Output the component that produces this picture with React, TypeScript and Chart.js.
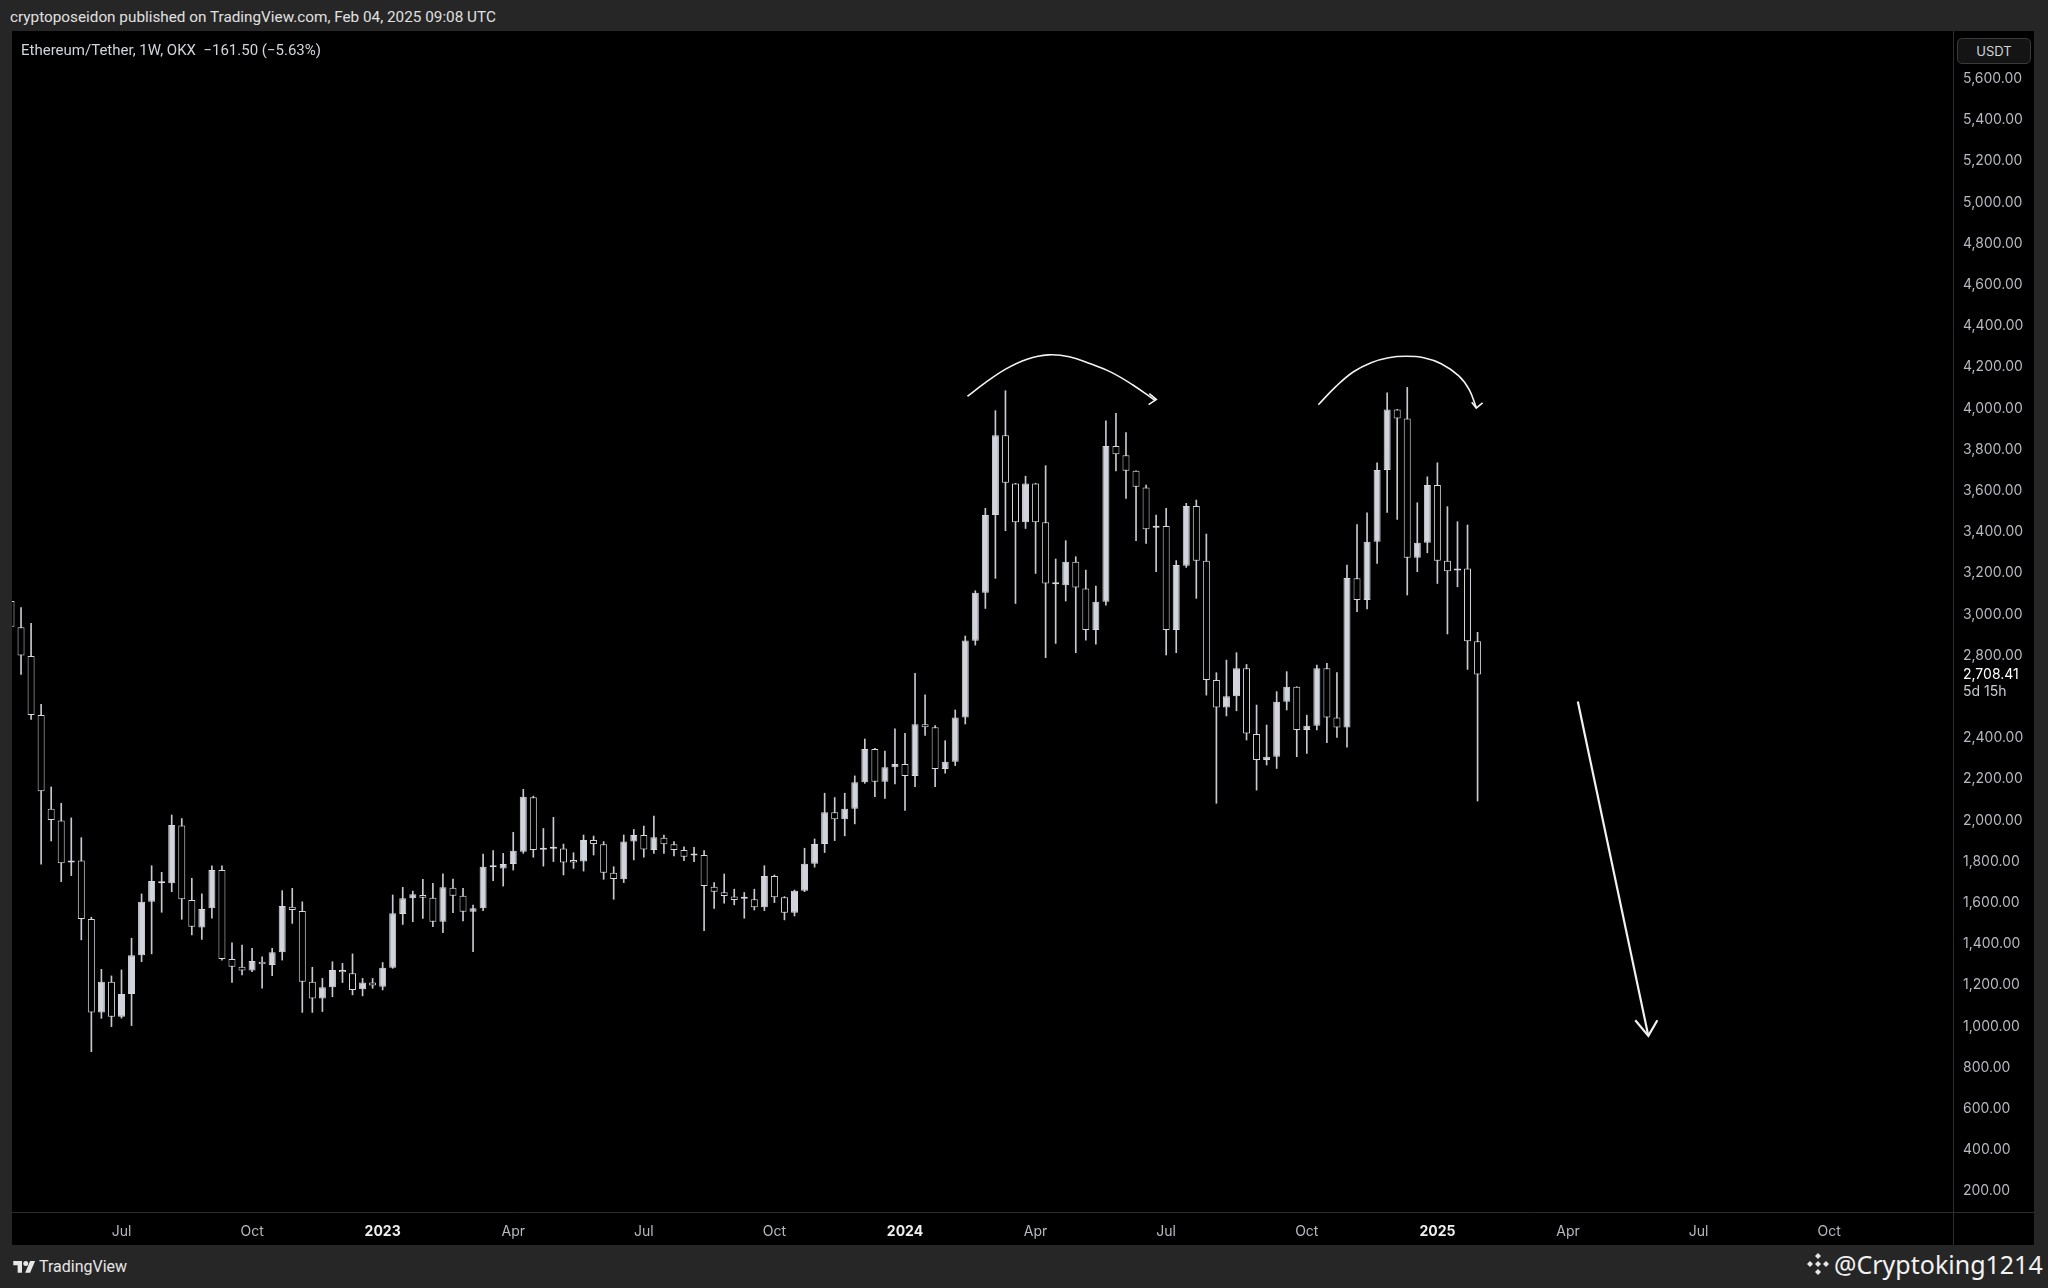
import { useEffect, useRef } from 'react';
import { Chart, registerables } from 'chart.js';

Chart.register(...registerables);

// Weekly candles, ETH/USDT (OKX), week of 18 Apr 2022 (index 0) to week of 3 Feb 2025 (index 146)
const opens = [
  3065, 2937, 2798, 2512, 2057, 1999, 1795, 1805, 1521, 1068,
  1217, 1047, 1157, 1345, 1605, 1703, 1695, 1975, 1614, 1480,
  1573, 1759, 1327, 1290, 1271, 1314, 1298, 1360, 1581, 1560,
  1217, 1136, 1190, 1274, 1258, 1180, 1213, 1193, 1285, 1545,
  1622, 1638, 1625, 1508, 1673, 1634, 1557, 1573, 1772, 1767,
  1788, 1848, 2112, 1860, 1862, 1864, 1808, 1800, 1905, 1884,
  1746, 1714, 1897, 1929, 1856, 1916, 1884, 1856, 1830, 1832,
  1678, 1651, 1630, 1622, 1617, 1578, 1730, 1627, 1552, 1659,
  1789, 1886, 2040, 2005, 2056, 2185, 2347, 2188, 2258, 2274,
  2216, 2467, 2452, 2250, 2285, 2500, 2872, 3105, 3482, 3870,
  3636, 3447, 3636, 3447, 3150, 3142, 3256, 3126, 2924, 3061,
  3817, 3773, 3697, 3616, 3425, 3429, 2924, 3236, 3526, 3261,
  2681, 2548, 2603, 2738, 2419, 2293, 2309, 2576, 2649, 2439,
  2460, 2738, 2500, 2451, 3175, 3070, 3353, 3701, 3995, 3951,
  3275, 3348, 3628, 3261, 3213, 3223, 2869.91,
];
const highs = [
  3080, 3033, 2957, 2563, 2162, 2083, 2012, 1916, 1530, 1277,
  1245, 1274, 1428, 1643, 1780, 1748, 2026, 2009, 1719, 1643,
  1780, 1780, 1406, 1395, 1379, 1338, 1379, 1659, 1670, 1605,
  1287, 1233, 1314, 1306, 1352, 1233, 1233, 1310, 1638, 1675,
  1657, 1714, 1694, 1740, 1715, 1670, 1589, 1837, 1853, 1840,
  1942, 2151, 2118, 1961, 2015, 1885, 1843, 1929, 1924, 1897,
  1775, 1929, 1956, 1973, 2021, 1929, 1897, 1872, 1869, 1853,
  1698, 1740, 1666, 1650, 1666, 1780, 1735, 1630, 1662, 1865,
  1910, 2132, 2111, 2132, 2216, 2395, 2350, 2337, 2444, 2423,
  2714, 2609, 2460, 2387, 2536, 2895, 3115, 3515, 3989, 4086,
  3636, 3671, 3636, 3722, 3269, 3358, 3280, 3215, 3138, 3940,
  3976, 3882, 3697, 3628, 3482, 3515, 3261, 3539, 3555, 3390,
  2717, 2778, 2814, 2757, 2560, 2463, 2625, 2722, 2649, 2511,
  2754, 2762, 2718, 3239, 3436, 3493, 3736, 4076, 3995, 4102,
  3542, 3668, 3736, 3523, 3450, 3434, 2913,
];
const lows = [
  2930, 2709, 2490, 1788, 1900, 1703, 1732, 1420, 877, 1039,
  999, 1040, 1004, 1314, 1352, 1554, 1654, 1520, 1444, 1422,
  1525, 1322, 1214, 1250, 1266, 1185, 1246, 1322, 1500, 1068,
  1068, 1072, 1144, 1213, 1153, 1148, 1185, 1177, 1282, 1495,
  1508, 1524, 1484, 1455, 1552, 1512, 1363, 1562, 1707, 1681,
  1759, 1840, 1821, 1778, 1800, 1735, 1767, 1754, 1832, 1714,
  1617, 1698, 1808, 1821, 1840, 1840, 1827, 1804, 1800, 1465,
  1573, 1598, 1590, 1525, 1565, 1562, 1601, 1517, 1536, 1654,
  1773, 1844, 1902, 1925, 1983, 2180, 2115, 2107, 2177, 2048,
  2164, 2412, 2164, 2229, 2266, 2468, 2851, 3029, 3175, 3406,
  3053, 3417, 3199, 2790, 2859, 3065, 2814, 2875, 2856, 3045,
  3697, 3563, 3358, 3345, 3207, 2803, 2814, 3228, 3078, 2608,
  2083, 2507, 2532, 2390, 2147, 2269, 2252, 2536, 2309, 2325,
  2439, 2377, 2403, 2356, 3013, 3026, 3248, 3495, 3461, 3094,
  3207, 3299, 3150, 2905, 3134, 2733, 2094,
];
const closes = [
  2940, 2800, 2512, 2141, 2002, 1792, 1803, 1521, 1068, 1217,
  1047, 1157, 1345, 1605, 1706, 1695, 1978, 1617, 1484, 1570,
  1759, 1327, 1290, 1271, 1317, 1302, 1360, 1585, 1565, 1217,
  1136, 1190, 1274, 1263, 1177, 1213, 1198, 1285, 1549, 1622,
  1641, 1625, 1508, 1675, 1634, 1557, 1573, 1775, 1775, 1788,
  1853, 2115, 1856, 1857, 1864, 1795, 1795, 1905, 1885, 1746,
  1715, 1897, 1929, 1859, 1918, 1884, 1856, 1824, 1832, 1681,
  1654, 1633, 1614, 1620, 1578, 1730, 1627, 1552, 1659, 1789,
  1886, 2040, 2005, 2056, 2185, 2347, 2188, 2258, 2274, 2216,
  2467, 2452, 2250, 2285, 2500, 2873, 3105, 3482, 3870, 3639,
  3447, 3636, 3447, 3150, 3146, 3256, 3130, 2924, 3061, 3817,
  3777, 3697, 3620, 3413, 3420, 2924, 3240, 3526, 3261, 2681,
  2548, 2603, 2738, 2422, 2293, 2309, 2576, 2649, 2439, 2460,
  2738, 2500, 2451, 3177, 3070, 3353, 3701, 3995, 3951, 3275,
  3348, 3628, 3261, 3209, 3222, 2869.91, 2708.41,
];

// Time axis: bar index of the first weekly bar of each quarter
const xTickIdx = [11, 24, 37, 50, 63, 76, 89, 102, 115, 129, 142, 155, 168, 181];
const xTickLabels = ['Jul', 'Oct', '2023', 'Apr', 'Jul', 'Oct', '2024', 'Apr', 'Jul', 'Oct', '2025', 'Apr', 'Jul', 'Oct'];
const yTickVals = [
  200, 400, 600, 800, 1000, 1200, 1400, 1600, 1800, 2000, 2200, 2400,
  2800, 3000, 3200, 3400, 3600, 3800, 4000, 4200, 4400, 4600, 4800, 5000, 5200, 5400, 5600,
];
const countdown = '5d 15h';

// Hand-drawn annotations in (bar index, price)
const arc1X = [95.22, 96.97, 99.06, 101.16, 103.26, 105.36, 107.46, 109.55, 111.65, 113.92];
const arc1Y = [4059, 4124, 4192, 4239, 4260, 4251, 4217, 4175, 4115, 4038];
const head1X = [113.32, 114.02, 113.25];
const head1Y = [4072, 4043, 4018];
const arc2X = [130.15, 131.91, 133.65, 135.4, 137.14, 138.89, 140.64, 142.38, 144.13, 145.18, 145.87];
const arc2Y = [4018, 4107, 4178, 4222, 4246, 4253, 4246, 4217, 4158, 4090, 4004];
const head2X = [145.42, 145.87, 146.5];
const head2Y = [4030, 4001, 4027];
const downX = [155.98, 163.0];
const downY = [2577, 954];
const downHeadX = [161.7, 163.0, 163.9];
const downHeadY = [1030, 954, 1030];

const UP = '#d1d4dc';
const EDGE = '#d6d8de';
const fmt = (v: number) => v.toLocaleString('en-US', { minimumFractionDigits: 2, maximumFractionDigits: 2 });
const pts = (xs: number[], ys: number[]) => xs.map((x, i) => ({ x, y: ys[i] }));

const lastClose = closes[closes.length - 1];
const prevClose = closes[closes.length - 2];
const chg = lastClose - prevClose;
const chgPct = (chg / prevClose) * 100;
const legendText = `Ethereum/Tether, 1W, OKX\u00a0\u00a0\u2212${Math.abs(chg).toFixed(2)} (\u2212${Math.abs(chgPct).toFixed(2)}%)`;

const framePlugin = {
  id: 'framePlugin',
  afterDraw(chart: any) {
    const { ctx, chartArea, scales } = chart;
    ctx.save();
    ctx.strokeStyle = '#2c2c2c';
    ctx.lineWidth = 1;
    const xr = Math.round(chartArea.right) + 0.5;
    const yb = Math.round(chartArea.bottom) + 0.5;
    ctx.beginPath();
    ctx.moveTo(xr, 0);
    ctx.lineTo(xr, chart.height);
    ctx.moveTo(0, yb);
    ctx.lineTo(chart.width, yb);
    ctx.stroke();
    const y = scales.y.getPixelForValue(lastClose);
    ctx.font = '14px Inter';
    ctx.textAlign = 'left';
    ctx.textBaseline = 'middle';
    ctx.fillStyle = '#ffffff';
    ctx.fillText(fmt(lastClose), chartArea.right + 10, y);
    ctx.fillStyle = '#c9ccd3';
    ctx.fillText(countdown, chartArea.right + 10, y + 17);
    ctx.restore();
  },
};

function TVLogo() {
  return (
    <svg width="23" height="15" viewBox="0 0 36 24" style={{ display: 'block' }}>
      <path d="M14 22H7V10H0V3h14z" fill="#e6e6e6" />
      <circle cx="20" cy="7" r="4" fill="#e6e6e6" />
      <path d="M27 22h-8l8-19h8z" fill="#e6e6e6" />
    </svg>
  );
}

function BinanceLogo() {
  const d = (cx: number, cy: number, r: number) => `M${cx} ${cy - r}L${cx + r} ${cy}L${cx} ${cy + r}L${cx - r} ${cy}Z`;
  return (
    <svg width="24" height="24" viewBox="0 0 24 24" style={{ display: 'block' }}>
      <path d={d(12, 12, 3)} fill="#e8e8e8" />
      <path d={d(12, 4, 3)} fill="#e8e8e8" />
      <path d={d(12, 20, 3)} fill="#e8e8e8" />
      <path d={d(4, 12, 3)} fill="#e8e8e8" />
      <path d={d(20, 12, 3)} fill="#e8e8e8" />
    </svg>
  );
}

export default function App() {
  const ref = useRef<HTMLCanvasElement | null>(null);

  useEffect(() => {
    document.body.style.margin = '0';
    document.body.style.overflow = 'hidden';
    document.body.style.background = '#262626';
    if (!ref.current) return;
    const idx = opens.map((_, i) => i);
    const annoLine = (xs: number[], ys: number[], tension: number, width: number) => ({
      type: 'line' as const,
      data: pts(xs, ys),
      borderColor: '#f2f2f2',
      borderWidth: width,
      pointRadius: 0,
      tension,
      fill: false,
      order: 0,
    });
    const chart = new Chart(ref.current, {
      type: 'bar',
      data: {
        datasets: [
          {
            type: 'bar',
            data: idx.map((i) => ({ x: i, y: [lows[i], highs[i]] })) as any,
            backgroundColor: '#c6c9d0',
            borderWidth: 0,
            barThickness: 1,
            grouped: false,
            order: 3,
          } as any,
          {
            type: 'bar',
            data: idx.map((i) => ({ x: i, y: [opens[i], closes[i]] })) as any,
            backgroundColor: idx.map((i) => (closes[i] >= opens[i] ? UP : '#000000')),
            borderColor: EDGE,
            borderWidth: 1,
            borderSkipped: false,
            inflateAmount: 0,
            barThickness: 7,
            minBarLength: 2,
            grouped: false,
            order: 2,
          } as any,
          annoLine(arc1X, arc1Y, 0.4, 1.6) as any,
          annoLine(head1X, head1Y, 0, 1.6) as any,
          annoLine(arc2X, arc2Y, 0.4, 1.6) as any,
          annoLine(head2X, head2Y, 0, 1.6) as any,
          annoLine(downX, downY, 0, 2.2) as any,
          annoLine(downHeadX, downHeadY, 0, 2.2) as any,
        ],
      },
      options: {
        animation: false,
        responsive: false,
        events: [],
        layout: { padding: 0 },
        plugins: { legend: { display: false }, tooltip: { enabled: false } },
        scales: {
          x: {
            type: 'linear',
            min: 0.1,
            max: 193.33,
            offset: false,
            grid: { display: false, drawTicks: false },
            border: { display: false },
            afterBuildTicks: (s: any) => {
              s.ticks = xTickIdx.map((v) => ({ value: v }));
            },
            afterFit: (s: any) => {
              s.height = 33;
              s.paddingLeft = 0;
              s.paddingRight = 0;
              s.paddingTop = 0;
              s.paddingBottom = 0;
            },
            ticks: {
              autoSkip: false,
              maxRotation: 0,
              padding: 11,
              callback: (_v: any, i: number) => xTickLabels[i],
              color: (c: any) => (/^\d{4}$/.test(xTickLabels[c.index] || '') ? '#eeeeee' : '#b6b9c0'),
              font: (c: any) => ({
                family: 'Inter',
                size: 14,
                weight: /^\d{4}$/.test(xTickLabels[c.index] || '') ? 'bold' : 'normal',
              }),
            },
          } as any,
          y: {
            type: 'linear',
            position: 'right',
            min: 99,
            max: 5832,
            grid: { display: false, drawTicks: false },
            border: { display: false },
            afterBuildTicks: (s: any) => {
              s.ticks = yTickVals.map((v) => ({ value: v }));
            },
            afterFit: (s: any) => {
              s.width = 81;
              s.paddingLeft = 0;
              s.paddingRight = 0;
              s.paddingTop = 0;
              s.paddingBottom = 0;
            },
            ticks: {
              autoSkip: false,
              padding: 10,
              crossAlign: 'near',
              color: '#b6b9c0',
              font: { family: 'Inter', size: 14 },
              callback: (v: any) => fmt(Number(v)),
            },
          } as any,
        },
      },
      plugins: [framePlugin],
    });
    return () => chart.destroy();
  }, []);

  return (
    <div
      style={{
        position: 'relative',
        width: 2048,
        height: 1288,
        background: '#262626',
        overflow: 'hidden',
        fontFamily: 'Roboto, "Liberation Sans", sans-serif',
      }}
    >
      <div
        style={{
          position: 'absolute',
          left: 10,
          top: 7,
          fontSize: 15.3,
          lineHeight: '20px',
          color: '#e0e0e0',
          whiteSpace: 'nowrap',
        }}
      >
        cryptoposeidon published on TradingView.com, Feb 04, 2025 09:08 UTC
      </div>
      <div style={{ position: 'absolute', left: 12, top: 31, width: 2022, height: 1214, background: '#000' }}>
        <canvas ref={ref} width={2022} height={1214} style={{ display: 'block', width: 2022, height: 1214 }} />
        <div
          style={{
            position: 'absolute',
            left: 9,
            top: 9,
            fontSize: 15,
            lineHeight: '20px',
            color: '#d1d4dc',
            whiteSpace: 'nowrap',
          }}
        >
          {legendText}
        </div>
        <div
          style={{
            position: 'absolute',
            left: 1945,
            top: 7,
            width: 74,
            height: 26,
            border: '1px solid #3a3a3a',
            borderRadius: 5,
            background: '#141414',
            color: '#d1d4dc',
            fontFamily: 'Inter, sans-serif',
            fontSize: 13,
            lineHeight: '24px',
            textAlign: 'center',
            boxSizing: 'border-box',
          }}
        >
          USDT
        </div>
      </div>
      <div style={{ position: 'absolute', left: 13, top: 1259 }}>
        <TVLogo />
      </div>
      <div
        style={{
          position: 'absolute',
          left: 39,
          top: 1256,
          fontSize: 16,
          lineHeight: '22px',
          color: '#e6e6e6',
          whiteSpace: 'nowrap',
        }}
      >
        TradingView
      </div>
      <div style={{ position: 'absolute', left: 1806, top: 1252 }}>
        <BinanceLogo />
      </div>
      <div
        style={{
          position: 'absolute',
          left: 1834,
          top: 1246,
          fontFamily: '"Noto Sans", sans-serif',
          fontSize: 25,
          lineHeight: '36px',
          color: '#f2f2f2',
          whiteSpace: 'nowrap',
        }}
      >
        @Cryptoking1214
      </div>
    </div>
  );
}
